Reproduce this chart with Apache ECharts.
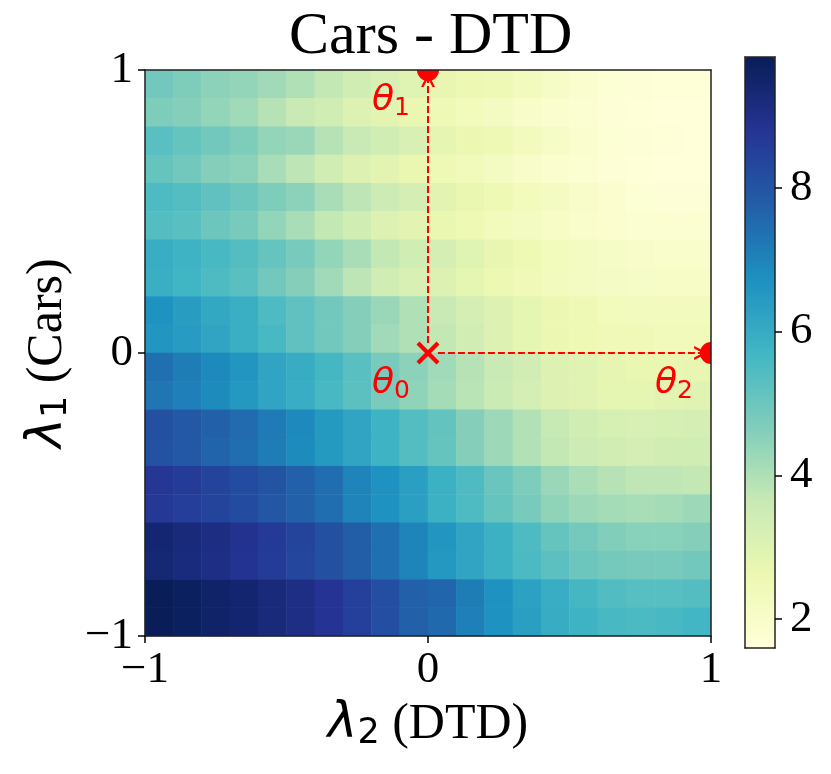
<!DOCTYPE html>
<html>
<head>
<meta charset="utf-8">
<script src="https://cdn.jsdelivr.net/npm/echarts@6/dist/echarts.min.js"></script>
<style>html,body{margin:0;padding:0;background:#fff}#main{width:831px;height:774px}</style>
</head>
<body>
<div id="main"></div>
<script>
var chartDom = document.getElementById('main');
var myChart = echarts.init(chartDom);
var option;

// loss values, row 0 = top (lambda1 = 1), column 0 = left (lambda2 = -1)
var lossRows = [
    [4.9, 4.7, 4.5, 4.4, 4.2, 4.0, 3.7, 3.4, 3.2, 3.0, 2.75, 2.6, 2.5, 2.3, 2.1, 1.9, 1.75, 1.7, 1.65, 1.65],
    [4.7, 4.6, 4.4, 4.2, 3.9, 3.6, 3.4, 3.1, 2.9, 2.7, 2.5, 2.35, 2.2, 2.0, 1.9, 1.8, 1.7, 1.65, 1.6, 1.6],
    [5.3, 5.1, 4.9, 4.7, 4.4, 4.3, 3.9, 3.6, 3.4, 3.2, 2.8, 2.65, 2.5, 2.3, 2.1, 1.9, 1.75, 1.7, 1.65, 1.6],
    [5.1, 4.9, 4.6, 4.5, 4.1, 3.8, 3.4, 3.1, 2.9, 2.7, 2.5, 2.4, 2.2, 2.0, 1.9, 1.8, 1.7, 1.65, 1.6, 1.6],
    [5.5, 5.4, 5.2, 5.0, 4.7, 4.5, 4.1, 3.8, 3.5, 3.3, 2.9, 2.7, 2.55, 2.35, 2.2, 2.0, 1.85, 1.75, 1.7, 1.7],
    [5.4, 5.3, 5.0, 4.8, 4.4, 4.1, 3.7, 3.4, 3.1, 2.9, 2.7, 2.55, 2.35, 2.2, 2.05, 1.95, 1.85, 1.8, 1.8, 1.8],
    [5.95, 5.8, 5.6, 5.4, 5.1, 4.8, 4.4, 4.1, 3.7, 3.4, 3.3, 3.0, 2.75, 2.55, 2.35, 2.2, 2.1, 2.0, 1.95, 1.95],
    [5.9, 5.75, 5.5, 5.3, 4.9, 4.6, 4.2, 3.8, 3.4, 3.2, 3.1, 2.85, 2.6, 2.45, 2.3, 2.2, 2.15, 2.1, 2.05, 2.05],
    [6.7, 6.4, 6.1, 5.9, 5.5, 5.2, 4.9, 4.6, 4.3, 4.0, 3.6, 3.3, 3.1, 2.85, 2.65, 2.5, 2.35, 2.3, 2.3, 2.3],
    [6.6, 6.45, 6.2, 5.9, 5.6, 5.2, 4.9, 4.6, 4.2, 4.0, 3.7, 3.35, 3.1, 2.85, 2.65, 2.55, 2.45, 2.45, 2.4, 2.4],
    [7.4, 7.15, 6.9, 6.6, 6.2, 6.0, 5.65, 5.3, 4.8, 4.5, 4.2, 3.9, 3.6, 3.35, 3.1, 2.95, 2.8, 2.7, 2.7, 2.75],
    [7.3, 7.1, 6.85, 6.55, 6.2, 5.95, 5.6, 5.25, 4.75, 4.45, 4.15, 3.85, 3.55, 3.3, 3.1, 2.95, 2.85, 2.85, 2.9, 2.95],
    [8.1, 7.9, 7.7, 7.5, 7.2, 6.9, 6.5, 6.2, 5.8, 5.4, 5.15, 4.6, 4.25, 3.95, 3.65, 3.4, 3.25, 3.2, 3.25, 3.3],
    [8.05, 7.9, 7.65, 7.45, 7.15, 6.85, 6.5, 6.2, 5.8, 5.4, 5.1, 4.6, 4.25, 3.95, 3.7, 3.5, 3.35, 3.3, 3.35, 3.4],
    [8.75, 8.6, 8.4, 8.2, 8.0, 7.7, 7.45, 7.0, 6.7, 6.35, 5.85, 5.5, 5.05, 4.7, 4.3, 4.05, 3.9, 3.75, 3.75, 3.7],
    [8.7, 8.55, 8.4, 8.2, 7.95, 7.7, 7.45, 7.0, 6.7, 6.35, 5.85, 5.5, 5.1, 4.8, 4.45, 4.25, 4.15, 4.1, 4.15, 4.25],
    [9.4, 9.25, 9.1, 8.9, 8.65, 8.4, 8.1, 7.8, 7.4, 7.0, 6.6, 6.2, 5.85, 5.5, 5.1, 4.85, 4.65, 4.55, 4.55, 4.6],
    [9.35, 9.2, 9.05, 8.85, 8.6, 8.35, 8.1, 7.8, 7.4, 7.0, 6.55, 6.2, 5.85, 5.55, 5.25, 5.0, 4.85, 4.8, 4.8, 4.9],
    [9.8, 9.7, 9.55, 9.45, 9.25, 9.05, 8.8, 8.5, 8.15, 7.7, 7.6, 7.15, 6.7, 6.3, 5.95, 5.65, 5.45, 5.35, 5.35, 5.4],
    [9.8, 9.7, 9.55, 9.45, 9.25, 9.05, 8.8, 8.5, 8.15, 7.7, 7.55, 7.1, 6.7, 6.35, 6.0, 5.8, 5.6, 5.55, 5.6, 5.7]
];

var axisTicks = [-1, 0, 1];
var colorbarTicks = [2, 4, 6, 8];
var colorMin = 1.6;
var colorMax = 9.82;
var ylgnbu = ['#ffffd9', '#edf8b1', '#c7e9b4', '#7fcdbb', '#41b6c4', '#1d91c0', '#225ea8', '#253494', '#081d58'];

var originPoint = [0, 0];
var taskPoints = [[0, 1], [1, 0]];
var taskSubs = ['1', '2'];
var arrowShrink = 0.035;

var nCols = lossRows[0].length;
var nRows = lossRows.length;
var cats = [];
for (var i = 0; i < nCols; i++) cats.push(i);
var rowCats = [];
for (var j = 0; j < nRows; j++) rowCats.push(j);

var heatData = [];
lossRows.forEach(function (row, r) {
    row.forEach(function (v, c) {
        heatData.push([c, nRows - 1 - r, v]);
    });
});

function fmtTick(v) {
    return v < 0 ? '\u2212' + (-v) : String(v);
}

var tickFont = { fontFamily: 'Liberation Serif', fontSize: 45, color: '#000' };
var frameLine = { show: true, onZero: false, lineStyle: { color: '#222', width: 1.5 } };

var arrowLines = taskPoints.map(function (p) {
    var dx = p[0] - originPoint[0], dy = p[1] - originPoint[1];
    var len = Math.sqrt(dx * dx + dy * dy);
    var ux = dx / len * arrowShrink, uy = dy / len * arrowShrink;
    return { coords: [[originPoint[0] + ux, originPoint[1] + uy], [p[0] - ux, p[1] - uy]] };
});

var thetaRich = {
    t: { fontFamily: 'DejaVu Sans', fontStyle: 'italic', fontSize: 36, color: '#ff0000', textBorderWidth: 0 },
    s: { fontFamily: 'DejaVu Sans', fontSize: 25, color: '#ff0000', textBorderWidth: 0, padding: [14, 0, 0, 0] }
};

var labelRich = {
    l: { fontFamily: 'DejaVu Sans', fontStyle: 'italic', fontSize: 50, color: '#000' },
    s: { fontFamily: 'DejaVu Sans', fontSize: 35, color: '#000', padding: [18, 0, 0, 0] },
    t: { fontFamily: 'Liberation Serif', fontSize: 50, color: '#000' }
};

// red dots at the task points, clipped to the plot area like in matplotlib
function renderDot(params, api) {
    var pt = api.coord([api.value(0), api.value(1)]);
    var cs = params.coordSys;
    return {
        type: 'circle',
        shape: { cx: pt[0], cy: pt[1], r: 11 },
        style: { fill: '#ff0000' },
        clipPath: { type: 'rect', shape: { x: cs.x, y: cs.y, width: cs.width, height: cs.height } }
    };
}

option = {
    animation: false,
    backgroundColor: '#fff',
    title: {
        text: 'Cars - DTD',
        left: 284,
        top: 2,
        textStyle: { fontFamily: 'Liberation Serif', fontSize: 60, fontWeight: 'normal', color: '#000' }
    },
    grid: [
        { left: 145, top: 70, width: 566, height: 566 },
        { left: 745, top: 57, width: 30, height: 591 }
    ],
    visualMap: {
        type: 'continuous',
        min: colorMin,
        max: colorMax,
        seriesIndex: 0,
        calculable: false,
        left: 745,
        top: 57,
        itemWidth: 30,
        itemHeight: 591,
        padding: 0,
        inRange: { color: ylgnbu }
    },
    xAxis: [
        { type: 'category', gridIndex: 0, data: cats, show: false },
        {
            type: 'value', gridIndex: 0, min: -1, max: 1, interval: 1, position: 'bottom', z: 10,
            axisLine: frameLine,
            axisTick: { show: true, length: 7, lineStyle: { color: '#000', width: 1.5 } },
            axisLabel: Object.assign({ margin: 12, formatter: fmtTick }, tickFont),
            splitLine: { show: false },
            name: '{l|\u03bb}{s|2}{t| (DTD)}',
            nameLocation: 'middle',
            nameGap: 62,
            nameTextStyle: { rich: labelRich }
        },
        {
            type: 'value', gridIndex: 0, min: -1, max: 1, position: 'top', z: 10,
            axisLine: frameLine, axisTick: { show: false }, axisLabel: { show: false }, splitLine: { show: false }
        },
        {
            type: 'value', gridIndex: 1, min: 0, max: 1, position: 'bottom', z: 10,
            axisLine: frameLine, axisTick: { show: false }, axisLabel: { show: false }, splitLine: { show: false }
        },
        {
            type: 'value', gridIndex: 1, min: 0, max: 1, position: 'top', z: 10,
            axisLine: frameLine, axisTick: { show: false }, axisLabel: { show: false }, splitLine: { show: false }
        }
    ],
    yAxis: [
        { type: 'category', gridIndex: 0, data: rowCats, show: false },
        {
            type: 'value', gridIndex: 0, min: -1, max: 1, interval: 1, position: 'left', z: 10,
            axisLine: frameLine,
            axisTick: { show: true, length: 7, lineStyle: { color: '#000', width: 1.5 } },
            axisLabel: Object.assign({ margin: 12, formatter: fmtTick }, tickFont),
            splitLine: { show: false },
            name: '{l|\u03bb}{s|1}{t| (Cars)}',
            nameLocation: 'middle',
            nameRotate: 90,
            nameGap: 68,
            nameTextStyle: { rich: labelRich }
        },
        {
            type: 'value', gridIndex: 0, min: -1, max: 1, position: 'right', z: 10,
            axisLine: frameLine, axisTick: { show: false }, axisLabel: { show: false }, splitLine: { show: false }
        },
        {
            type: 'value', gridIndex: 1, min: colorMin, max: colorMax, position: 'right', z: 10,
            axisLine: frameLine,
            axisTick: { show: true, length: 7, customValues: colorbarTicks, lineStyle: { color: '#000', width: 1.5 } },
            axisLabel: Object.assign({ margin: 15, customValues: colorbarTicks, formatter: fmtTick }, tickFont),
            splitLine: { show: false }
        },
        {
            type: 'value', gridIndex: 1, min: colorMin, max: colorMax, position: 'left', z: 10,
            axisLine: frameLine, axisTick: { show: false }, axisLabel: { show: false }, splitLine: { show: false }
        }
    ],
    series: [
        {
            type: 'heatmap',
            xAxisIndex: 0,
            yAxisIndex: 0,
            data: heatData,
            itemStyle: { borderWidth: 0 },
            emphasis: { disabled: true }
        },
        {
            type: 'lines',
            coordinateSystem: 'cartesian2d',
            xAxisIndex: 1,
            yAxisIndex: 1,
            z: 5,
            symbol: ['none', 'path://M0,10 L5,0 L10,10 L8.2,10 L5,3.8 L1.8,10 Z'],
            symbolSize: 14,
            lineStyle: { color: '#ff0000', width: 2, type: [7, 3], opacity: 1 },
            data: arrowLines
        },
        {
            type: 'custom',
            xAxisIndex: 1,
            yAxisIndex: 1,
            z: 6,
            renderItem: renderDot,
            data: taskPoints
        },
        {
            type: 'scatter',
            xAxisIndex: 1,
            yAxisIndex: 1,
            z: 5,
            symbol: 'circle',
            symbolSize: 1,
            itemStyle: { color: '#ff0000', opacity: 1 },
            label: {
                show: true,
                position: 'inside',
                offset: [-37, 31],
                textBorderWidth: 0,
                rich: thetaRich
            },
            data: taskPoints.map(function (p, k) {
                return { value: p, label: { formatter: '{t|\u03b8}{s|' + taskSubs[k] + '}' } };
            })
        },
        {
            type: 'scatter',
            xAxisIndex: 1,
            yAxisIndex: 1,
            z: 6,
            symbol: 'path://M0,1.3 L1.3,0 L10,8.7 L8.7,10 Z M8.7,0 L10,1.3 L1.3,10 L0,8.7 Z',
            symbolSize: 23,
            itemStyle: { color: '#ff0000', opacity: 1 },
            label: {
                show: true,
                position: 'inside',
                offset: [-37, 31],
                textBorderWidth: 0,
                formatter: '{t|\u03b8}{s|0}',
                rich: thetaRich
            },
            data: [originPoint]
        }
    ]
};

option && myChart.setOption(option);
</script>
</body>
</html>
